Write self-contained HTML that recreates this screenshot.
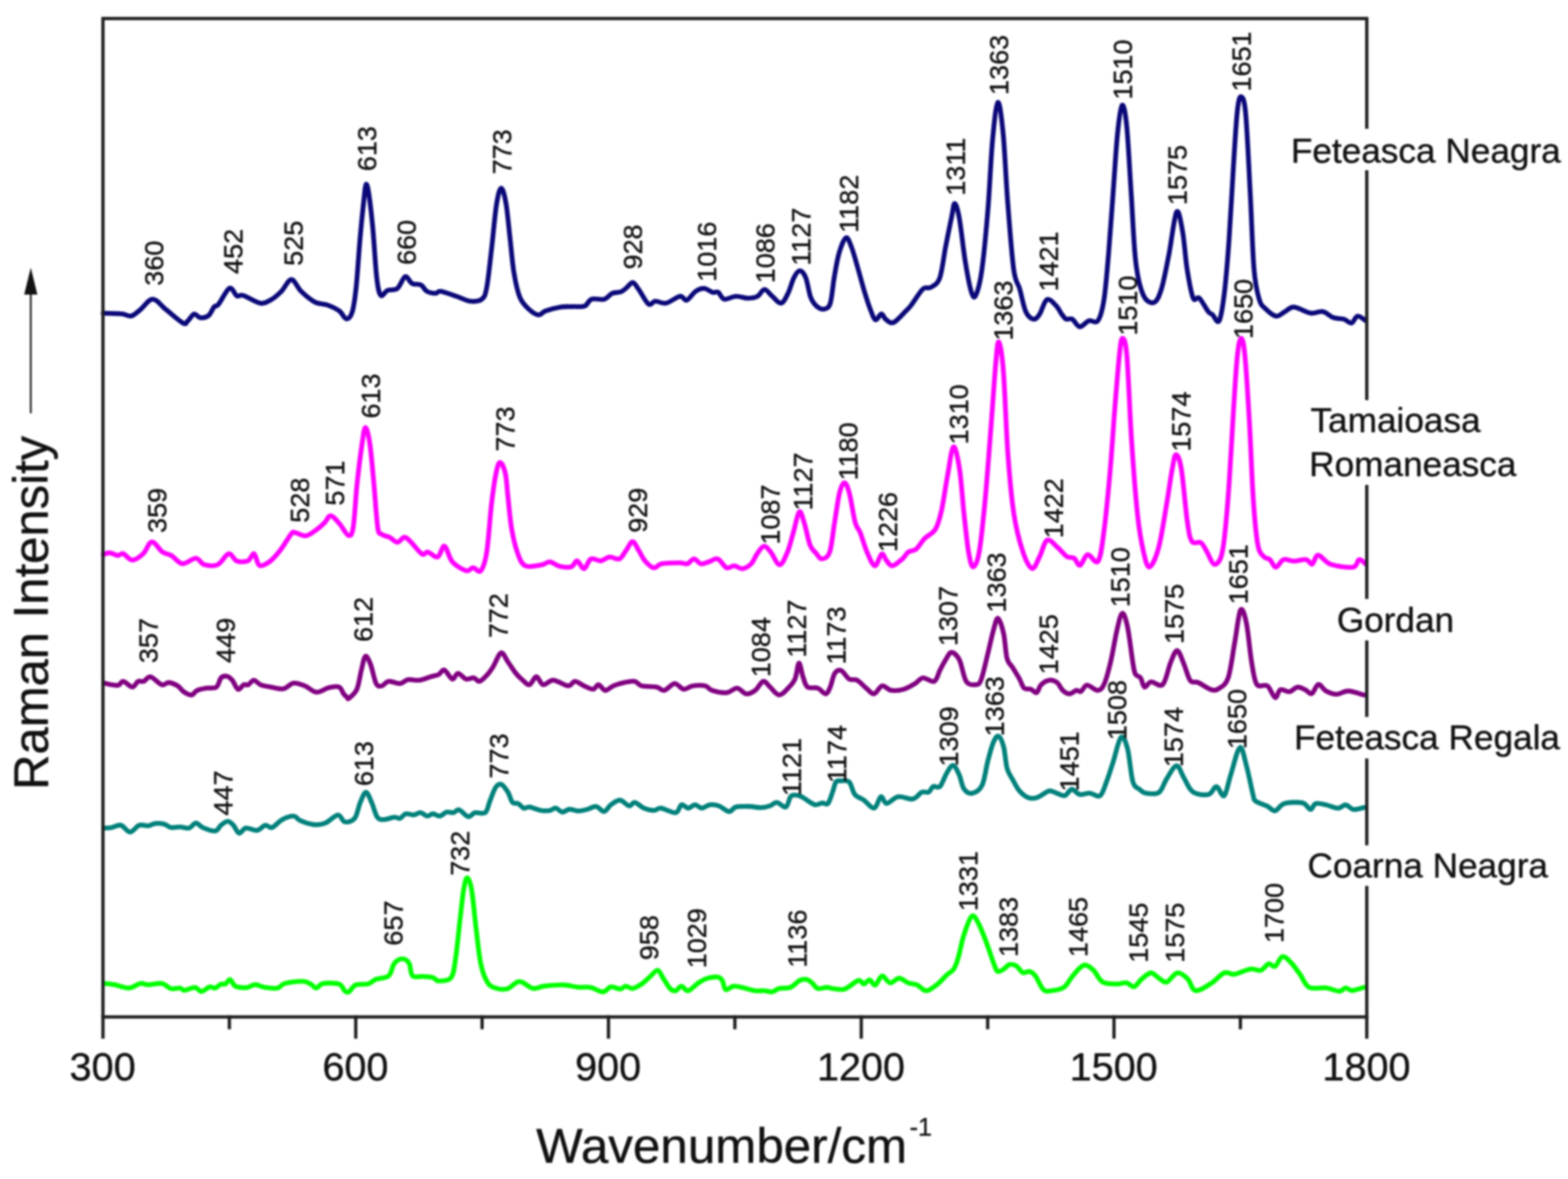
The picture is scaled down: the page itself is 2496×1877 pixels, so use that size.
<!DOCTYPE html><html><head><meta charset="utf-8"><title>Raman spectra</title><style>html,body{margin:0;padding:0;background:#fff;overflow:hidden;}svg{display:block;}</style></head><body>
<svg width="2496" height="1877" viewBox="0 0 2496 1877" style="filter:blur(1.60px)">
<rect width="2496" height="1877" fill="#fff"/>
<path d="M164.3,498.6 C168.4,498.7 183.6,499.2 188.9,499.4 C194.2,499.6 192.8,499.4 196.2,500.0 C199.6,500.6 204.6,504.2 209.2,503.0 C213.8,501.8 218.0,497.3 223.7,492.8 C229.4,488.3 236.4,476.2 243.2,476.2 C249.9,476.2 256.1,486.4 264.2,492.8 C272.3,499.2 285.8,511.5 291.6,514.5 C297.4,517.5 296.0,513.4 298.9,511.0 C301.8,508.6 305.6,500.9 309.0,500.0 C312.4,499.1 315.2,505.5 319.1,505.9 C323.0,506.3 328.6,505.1 332.2,502.2 C335.8,499.3 338.2,491.5 340.8,488.5 C343.4,485.5 343.9,489.1 348.0,484.2 C352.1,479.2 360.6,461.0 365.4,458.8 C370.2,456.6 373.4,469.2 377.0,471.1 C380.6,473.0 380.8,468.5 387.1,470.4 C393.4,472.3 407.1,481.6 414.6,482.7 C422.1,483.8 426.4,480.0 432.0,476.9 C437.6,473.8 442.6,469.2 447.9,463.9 C453.2,458.6 458.6,445.1 463.8,445.1 C469.1,445.1 473.1,457.8 479.4,463.8 C485.6,469.8 494.3,477.4 501.3,481.0 C508.3,484.6 515.1,483.3 521.6,485.7 C528.1,488.1 535.3,491.5 540.3,495.1 C545.2,498.8 547.9,507.3 551.3,507.6 C554.7,507.9 558.1,505.0 560.7,496.7 C563.3,488.4 564.8,477.2 566.9,457.6 C569.0,438.1 571.1,402.8 573.2,379.4 C575.3,355.9 577.8,331.2 579.4,316.9 C581.0,302.6 581.3,294.7 582.6,293.4 C583.9,292.1 585.4,297.4 587.2,309.1 C589.0,320.8 591.4,341.7 593.5,363.8 C595.6,385.9 597.6,424.3 599.7,442.0 C601.8,459.7 603.1,466.7 606.0,470.1 C608.9,473.5 612.6,464.1 617.0,462.3 C621.4,460.5 627.9,462.9 632.6,459.2 C637.3,455.5 641.2,441.7 645.1,440.4 C649.0,439.1 651.8,449.1 656.0,451.3 C660.2,453.5 666.2,451.6 670.1,453.7 C674.0,455.8 675.6,461.6 679.5,463.8 C683.4,466.0 689.9,467.0 693.5,467.0 C697.1,467.0 695.9,463.0 701.4,463.8 C706.9,464.6 718.6,469.1 726.4,471.7 C734.2,474.3 741.5,478.7 748.3,479.5 C755.1,480.3 762.6,479.9 767.0,476.3 C771.4,472.7 772.2,471.1 774.8,457.6 C777.4,444.1 780.0,417.2 782.6,395.1 C785.2,373.0 787.9,340.6 790.5,324.7 C793.1,308.8 795.5,299.5 798.0,299.5 C800.5,299.5 803.3,311.4 805.6,324.7 C807.9,338.0 809.8,361.2 811.9,379.4 C814.0,397.6 815.5,418.5 818.1,434.1 C820.7,449.7 823.6,463.6 827.5,473.2 C831.4,482.8 836.6,487.3 841.6,492.0 C846.6,496.7 852.8,500.9 857.2,501.4 C861.6,501.9 862.5,497.2 868.2,495.1 C873.9,493.0 884.3,490.1 891.6,488.9 C898.9,487.7 905.4,488.4 911.9,488.1 C918.4,487.8 925.8,489.3 930.7,487.3 C935.7,485.3 936.4,478.1 941.6,476.3 C946.8,474.5 956.5,477.9 962.0,476.3 C967.5,474.8 970.1,468.9 974.5,467.0 C978.9,465.1 984.6,466.2 988.5,464.6 C992.4,463.0 994.8,460.1 997.9,457.6 C1001.0,455.1 1004.2,449.3 1007.3,449.8 C1010.4,450.3 1012.5,455.0 1016.7,460.7 C1020.9,466.4 1027.9,481.1 1032.3,484.2 C1036.7,487.3 1038.5,479.8 1043.2,479.5 C1047.9,479.2 1053.9,483.9 1060.4,482.6 C1066.9,481.3 1076.8,472.5 1082.3,471.7 C1087.8,470.9 1089.1,479.2 1093.3,477.9 C1097.5,476.6 1102.6,466.9 1107.3,463.8 C1112.0,460.7 1116.9,458.9 1121.4,459.2 C1125.9,459.5 1130.4,464.4 1134.1,465.4 C1137.8,466.4 1140.3,463.6 1143.4,465.4 C1146.5,467.2 1148.1,475.2 1152.8,476.3 C1157.5,477.4 1165.3,471.9 1171.6,471.7 C1177.8,471.4 1184.6,474.8 1190.3,474.8 C1196.0,474.8 1201.6,474.1 1206.0,471.7 C1210.4,469.3 1213.0,460.7 1216.9,460.7 C1220.8,460.7 1225.0,468.0 1229.4,471.7 C1233.8,475.4 1239.3,483.4 1243.5,482.6 C1247.7,481.8 1251.0,473.8 1254.4,467.0 C1257.8,460.2 1260.7,448.0 1263.8,442.0 C1266.9,436.0 1270.1,431.0 1273.2,431.0 C1276.3,431.0 1279.7,435.0 1282.6,442.0 C1285.5,449.0 1287.5,465.6 1290.4,473.2 C1293.3,480.8 1296.2,484.2 1299.8,487.3 C1303.4,490.4 1308.6,492.8 1312.3,492.0 C1316.0,491.2 1319.1,490.9 1321.7,482.6 C1324.3,474.3 1325.6,455.3 1327.9,442.0 C1330.2,428.7 1332.6,413.5 1335.7,402.9 C1338.8,392.3 1343.3,379.8 1346.7,378.5 C1350.1,377.2 1352.9,387.0 1356.0,395.0 C1359.1,403.0 1362.0,414.6 1365.4,426.3 C1368.8,438.0 1373.0,454.2 1376.4,465.4 C1379.8,476.6 1382.9,486.2 1385.8,493.5 C1388.7,500.8 1390.8,508.1 1393.6,509.2 C1396.4,510.2 1400.3,500.1 1402.9,499.8 C1405.5,499.5 1406.6,505.2 1409.2,507.6 C1411.8,510.0 1415.7,513.4 1418.6,513.9 C1421.5,514.4 1422.8,513.6 1426.4,510.7 C1430.1,507.8 1436.6,500.7 1440.5,496.7 C1444.4,492.7 1445.2,492.6 1450.0,486.5 C1454.8,480.4 1464.0,464.8 1469.2,460.0 C1474.4,455.2 1476.9,460.4 1481.3,457.6 C1485.7,454.8 1491.7,454.0 1495.7,443.2 C1499.7,432.4 1502.1,409.1 1505.3,392.6 C1508.5,376.2 1512.6,355.9 1515.0,344.5 C1517.4,333.1 1517.8,323.6 1519.8,324.0 C1521.8,324.4 1524.2,331.4 1527.0,346.9 C1529.8,362.3 1533.4,397.0 1536.6,416.7 C1539.8,436.4 1543.4,456.0 1546.2,464.8 C1549.0,473.6 1550.7,475.6 1553.5,469.6 C1556.3,463.6 1559.9,451.6 1563.1,428.7 C1566.3,405.8 1569.9,366.6 1572.7,332.5 C1575.5,298.4 1577.3,252.4 1579.9,224.2 C1582.5,195.9 1585.6,165.0 1588.4,163.0 C1591.2,161.0 1594.2,185.9 1596.8,212.2 C1599.4,238.4 1601.2,284.4 1604.0,320.5 C1606.8,356.6 1610.4,405.4 1613.6,428.7 C1616.8,451.9 1620.0,448.8 1623.2,460.0 C1626.4,471.2 1629.3,488.1 1632.9,496.1 C1636.5,504.1 1641.3,507.3 1644.9,508.1 C1648.5,508.9 1650.9,506.1 1654.5,500.9 C1658.1,495.7 1662.2,479.3 1666.6,476.9 C1671.0,474.5 1677.0,482.5 1681.0,486.5 C1685.0,490.5 1687.9,497.3 1690.6,500.9 C1693.3,504.5 1694.5,506.9 1697.2,508.1 C1699.9,509.3 1703.2,506.1 1706.8,508.1 C1710.4,510.1 1714.5,519.8 1718.9,520.2 C1723.3,520.6 1728.5,512.2 1733.3,510.6 C1738.1,509.0 1743.7,516.2 1747.7,510.6 C1751.7,505.0 1754.6,494.5 1757.4,476.9 C1760.2,459.2 1762.2,432.8 1764.6,404.7 C1767.0,376.6 1769.4,340.5 1771.8,308.4 C1774.2,276.3 1776.6,235.7 1779.0,212.2 C1781.4,188.7 1783.8,169.5 1786.2,167.5 C1788.6,165.5 1791.1,176.7 1793.5,200.2 C1795.9,223.7 1798.3,272.3 1800.7,308.4 C1803.1,344.5 1804.7,389.8 1807.9,416.7 C1811.1,443.6 1815.1,458.8 1819.9,469.6 C1824.7,480.4 1832.0,483.3 1836.8,481.7 C1841.6,480.1 1844.8,472.8 1848.8,460.0 C1852.8,447.2 1856.8,425.1 1860.8,404.7 C1864.8,384.3 1869.3,343.5 1872.9,337.5 C1876.5,331.5 1879.7,353.4 1882.5,368.6 C1885.3,383.8 1886.9,411.1 1889.7,428.7 C1892.5,446.3 1896.1,466.9 1899.3,474.5 C1902.5,482.1 1905.0,470.9 1909.0,474.5 C1913.0,478.1 1919.9,491.7 1923.4,496.1 C1926.9,500.5 1927.1,498.5 1930.0,500.9 C1932.9,503.3 1937.6,516.6 1940.8,510.6 C1944.0,504.6 1946.6,486.5 1949.2,464.8 C1951.8,443.1 1954.1,414.7 1956.5,380.6 C1958.9,346.5 1961.5,294.4 1963.7,260.3 C1965.9,226.2 1967.7,193.8 1969.7,176.1 C1971.7,158.4 1973.5,153.2 1975.7,154.0 C1977.9,154.8 1980.5,155.2 1982.9,180.9 C1985.3,206.6 1988.0,267.1 1990.2,308.4 C1992.4,349.7 1993.8,400.6 1996.2,428.7 C1998.6,456.8 2001.6,466.5 2004.6,476.9 C2007.6,487.3 2009.8,486.9 2014.2,491.3 C2018.6,495.7 2025.9,502.5 2031.1,503.3 C2036.3,504.1 2040.7,498.5 2045.5,496.1 C2050.3,493.7 2053.1,488.5 2059.9,488.9 C2066.7,489.3 2078.8,497.3 2086.4,498.5 C2094.0,499.7 2099.6,494.9 2105.6,496.1 C2111.6,497.3 2116.9,503.7 2122.5,505.7 C2128.1,507.7 2134.5,506.7 2139.3,508.1 C2144.1,509.5 2147.8,515.0 2151.4,514.2 C2155.0,513.4 2157.2,503.9 2161.0,503.3 C2164.8,502.7 2172.0,509.4 2174.2,510.6" fill="none" stroke="#0a0878" stroke-width="7.6" stroke-linejoin="round" stroke-linecap="round"/>
<path d="M164.3,883.0 C166.0,882.5 170.6,879.9 174.5,880.1 C178.4,880.3 183.9,884.2 187.5,884.4 C191.1,884.6 192.3,880.3 196.2,881.5 C200.0,882.7 205.3,891.6 210.6,891.6 C215.9,891.6 222.8,886.3 228.0,881.5 C233.2,876.7 236.6,863.2 241.7,862.7 C246.8,862.2 253.2,875.0 258.4,878.6 C263.6,882.2 267.5,881.3 272.8,884.4 C278.1,887.5 283.7,896.7 290.2,897.4 C296.7,898.1 306.1,888.5 311.9,888.8 C317.7,889.0 319.1,897.2 324.9,898.9 C330.7,900.6 340.1,901.8 346.6,898.9 C353.1,896.0 358.9,882.5 364.0,881.5 C369.1,880.5 371.9,891.2 377.0,893.1 C382.1,895.0 389.8,895.0 394.4,893.1 C399.0,891.2 401.4,880.3 404.5,881.5 C407.6,882.7 408.9,898.4 413.2,900.3 C417.5,902.2 425.0,897.2 430.5,893.1 C436.0,889.0 440.8,882.9 446.4,875.7 C451.9,868.5 459.9,854.3 463.8,849.7 C467.7,845.1 466.1,847.5 470.0,848.0 C473.9,848.5 481.5,853.9 487.2,853.0 C492.9,852.1 499.4,846.4 504.4,842.9 C509.3,839.4 513.2,835.6 516.9,832.0 C520.5,828.4 522.4,820.8 526.3,821.0 C530.2,821.2 535.6,828.3 540.3,833.5 C545.0,838.7 550.8,851.2 554.4,852.3 C558.0,853.3 559.9,853.6 562.2,839.8 C564.6,826.0 566.1,791.5 568.5,769.4 C570.9,747.2 574.1,721.7 576.3,706.9 C578.5,692.1 579.7,680.5 581.8,680.5 C583.9,680.5 586.6,692.1 588.8,706.9 C591.0,721.7 593.0,747.2 595.1,769.4 C597.2,791.5 599.2,826.2 601.3,839.8 C603.4,853.3 604.5,848.1 607.6,850.7 C610.7,853.3 615.9,853.3 620.1,855.4 C624.3,857.5 628.7,863.2 632.6,863.2 C636.5,863.2 640.1,855.6 643.5,855.4 C646.9,855.1 648.2,857.3 652.9,861.7 C657.6,866.1 667.0,879.1 671.7,882.0 C676.4,884.9 676.8,878.1 681.0,878.9 C685.2,879.7 692.3,888.3 696.7,886.7 C701.1,885.1 703.7,868.2 707.6,869.5 C711.5,870.8 714.4,888.0 720.1,894.5 C725.8,901.0 736.5,907.0 742.0,908.6 C747.5,910.2 749.1,903.9 753.0,903.9 C756.9,903.9 761.8,912.8 765.4,908.6 C769.0,904.4 771.9,896.9 774.8,878.9 C777.7,860.9 780.0,822.3 782.6,800.7 C785.2,779.1 788.1,759.8 790.5,749.1 C792.9,738.4 794.4,735.7 796.7,736.5 C799.0,737.3 802.5,744.9 804.5,753.8 C806.5,762.7 806.9,775.7 808.5,790.0 C810.1,804.3 811.6,825.0 814.1,839.8 C816.6,854.6 819.8,868.8 823.4,878.9 C827.0,889.0 829.5,897.3 836.0,900.7 C842.5,904.1 856.0,900.2 862.5,899.2 C869.0,898.2 870.3,894.1 875.0,894.5 C879.7,894.9 885.0,900.2 890.7,901.5 C896.4,902.8 904.7,903.7 909.4,902.3 C914.1,900.9 915.4,892.4 918.8,892.9 C922.2,893.4 926.1,905.9 929.7,905.4 C933.4,904.9 936.3,891.9 940.7,889.8 C945.1,887.7 951.3,893.4 956.3,892.9 C961.2,892.4 965.4,887.2 970.4,886.7 C975.4,886.2 981.6,891.6 986.0,889.8 C990.4,888.0 993.5,880.3 997.0,875.7 C1000.5,871.1 1003.7,862.1 1007.1,862.4 C1010.5,862.7 1014.0,872.2 1017.3,877.3 C1020.6,882.4 1022.8,888.5 1026.7,892.9 C1030.6,897.3 1036.3,903.1 1040.7,903.9 C1045.1,904.7 1046.4,898.9 1053.2,897.6 C1060.0,896.3 1074.6,896.0 1081.4,896.0 C1088.2,896.0 1090.0,898.6 1093.9,897.6 C1097.8,896.6 1101.2,889.8 1104.8,889.8 C1108.4,889.8 1111.9,896.8 1115.8,897.6 C1119.7,898.4 1123.8,895.8 1128.3,894.5 C1132.8,893.2 1137.8,888.2 1142.5,889.8 C1147.2,891.4 1152.2,902.1 1156.6,903.9 C1161.0,905.7 1164.9,900.5 1169.1,900.7 C1173.3,901.0 1177.2,905.9 1181.6,905.4 C1186.0,904.9 1191.8,901.5 1195.7,897.6 C1199.6,893.7 1201.6,886.7 1205.0,882.0 C1208.4,877.3 1212.3,870.0 1216.0,869.5 C1219.7,869.0 1222.7,873.9 1226.9,878.9 C1231.1,883.9 1236.6,899.2 1241.0,899.2 C1245.4,899.2 1249.8,887.5 1253.5,878.9 C1257.2,870.3 1259.8,858.2 1262.9,847.6 C1266.0,837.0 1269.4,817.6 1272.3,815.0 C1275.2,812.4 1277.2,823.2 1280.1,832.0 C1283.0,840.8 1286.4,859.8 1289.5,867.9 C1292.6,876.0 1295.7,876.8 1298.8,880.4 C1301.9,884.0 1304.5,890.0 1308.2,889.8 C1311.9,889.5 1317.3,888.5 1320.7,878.9 C1324.1,869.3 1325.9,847.6 1328.5,832.0 C1331.1,816.4 1333.7,795.6 1336.3,785.0 C1338.9,774.4 1341.6,768.5 1344.2,768.5 C1346.8,768.5 1349.1,774.4 1352.0,785.0 C1354.9,795.6 1358.5,821.6 1361.4,832.0 C1364.3,842.4 1366.1,839.8 1369.2,847.6 C1372.3,855.4 1376.2,870.0 1380.1,878.9 C1384.0,887.8 1388.7,900.2 1392.6,900.7 C1396.5,901.2 1400.5,883.3 1403.6,882.0 C1406.7,880.7 1408.5,889.8 1411.4,892.9 C1414.3,896.0 1416.6,901.2 1420.8,900.7 C1425.0,900.2 1432.2,893.4 1436.4,889.8 C1440.6,886.2 1442.2,881.5 1445.8,878.9 C1449.4,876.3 1453.9,877.8 1458.3,874.2 C1462.7,870.6 1466.9,862.4 1472.0,857.2 C1477.1,852.0 1484.5,850.0 1488.9,842.8 C1493.3,835.6 1495.3,827.9 1498.5,813.9 C1501.7,799.9 1504.9,775.7 1508.1,758.6 C1511.3,741.5 1514.5,713.5 1517.7,711.5 C1520.9,709.5 1524.6,728.7 1527.4,746.6 C1530.2,764.5 1532.2,796.7 1534.6,818.7 C1537.0,840.8 1539.4,864.9 1541.8,878.9 C1544.2,892.9 1546.2,902.5 1549.0,902.5 C1551.8,902.5 1555.5,896.9 1558.7,878.9 C1561.9,860.9 1565.1,828.8 1568.3,794.7 C1571.5,760.6 1575.1,710.5 1577.9,674.4 C1580.7,638.3 1583.1,599.8 1585.1,578.1 C1587.1,556.5 1587.9,542.5 1589.9,544.5 C1591.9,546.5 1594.8,560.5 1597.2,590.2 C1599.6,619.9 1601.6,684.4 1604.4,722.5 C1607.2,760.6 1610.0,792.6 1614.0,818.7 C1618.0,844.8 1623.6,864.5 1628.4,878.9 C1633.2,893.3 1638.5,903.8 1642.9,905.0 C1647.3,906.2 1650.9,893.6 1654.9,886.1 C1658.9,878.6 1662.1,862.4 1666.9,860.0 C1671.7,857.6 1678.6,867.4 1683.8,871.7 C1689.0,876.1 1693.9,883.3 1698.2,886.1 C1702.5,888.9 1706.1,886.2 1709.6,888.5 C1713.1,890.8 1715.6,900.9 1719.2,900.0 C1722.8,899.1 1726.5,884.1 1731.3,883.0 C1736.1,881.9 1743.7,900.0 1748.1,893.3 C1752.5,886.6 1754.5,867.2 1757.7,842.8 C1760.9,818.3 1764.6,778.7 1767.4,746.6 C1770.2,714.5 1772.2,680.4 1774.6,650.3 C1777.0,620.2 1779.8,584.7 1781.8,566.1 C1783.8,547.5 1784.6,538.5 1786.6,538.5 C1788.6,538.5 1791.4,539.5 1793.8,566.1 C1796.2,592.8 1798.3,656.3 1801.1,698.4 C1803.9,740.5 1807.5,788.6 1810.7,818.7 C1813.9,848.8 1817.1,864.9 1820.3,878.9 C1823.5,892.9 1826.0,903.7 1830.0,902.5 C1834.0,901.3 1840.0,887.7 1844.4,871.7 C1848.8,855.7 1852.8,827.6 1856.4,806.7 C1860.0,785.9 1863.4,760.4 1866.0,746.6 C1868.6,732.8 1869.6,723.7 1872.0,723.7 C1874.4,723.7 1877.5,728.8 1880.5,746.6 C1883.5,764.5 1887.3,811.6 1890.1,830.8 C1892.9,850.0 1893.7,856.5 1897.3,862.0 C1900.9,867.5 1907.7,861.2 1911.7,864.0 C1915.7,866.8 1918.0,873.2 1921.4,878.9 C1924.8,884.6 1928.6,896.5 1932.2,898.1 C1935.8,899.7 1940.2,895.7 1943.0,888.5 C1945.8,881.3 1947.0,874.4 1949.2,854.8 C1951.5,835.1 1954.1,804.7 1956.5,770.6 C1958.9,736.5 1961.5,684.4 1963.7,650.3 C1965.9,616.2 1967.7,584.7 1969.7,566.1 C1971.7,547.5 1973.7,538.5 1975.7,538.5 C1977.7,538.5 1979.5,543.5 1981.7,566.1 C1983.9,588.8 1986.8,636.3 1989.0,674.4 C1991.2,712.5 1992.8,762.6 1995.0,794.7 C1997.2,826.8 1999.4,851.7 2002.2,866.9 C2005.0,882.1 2008.6,882.1 2011.8,886.1 C2015.0,890.1 2018.2,888.1 2021.4,890.9 C2024.6,893.7 2027.5,903.0 2031.1,903.0 C2034.7,903.0 2038.3,892.5 2043.1,890.9 C2047.9,889.3 2053.9,893.3 2059.9,893.3 C2065.9,893.3 2074.4,890.1 2079.2,890.9 C2084.0,891.7 2085.6,899.3 2088.8,898.1 C2092.0,896.9 2093.6,883.7 2098.4,883.7 C2103.2,883.7 2108.5,894.9 2117.7,898.1 C2126.9,901.3 2146.2,904.2 2153.8,903.0 C2161.4,901.8 2160.0,891.7 2163.4,890.9 C2166.8,890.1 2172.4,896.9 2174.2,898.1" fill="none" stroke="#ff00ff" stroke-width="7.6" stroke-linejoin="round" stroke-linecap="round"/>
<path d="M165.4,1087.5 C169.0,1088.1 182.0,1091.5 187.1,1091.1 C192.2,1090.6 192.3,1084.3 196.2,1084.8 C200.1,1085.2 206.7,1093.8 210.6,1093.8 C214.5,1093.8 216.7,1086.3 219.7,1084.8 C222.7,1083.3 225.4,1086.0 228.7,1084.8 C232.0,1083.6 234.8,1076.6 239.6,1077.5 C244.4,1078.4 252.8,1088.7 257.6,1090.2 C262.4,1091.7 264.3,1086.3 268.5,1086.6 C272.7,1086.9 279.1,1089.6 283.0,1092.0 C286.9,1094.4 288.4,1098.6 292.0,1101.0 C295.6,1103.4 301.1,1106.8 304.7,1106.5 C308.3,1106.2 309.8,1101.0 313.7,1099.2 C317.6,1097.4 323.1,1096.5 328.2,1095.6 C333.3,1094.7 340.6,1096.5 344.5,1093.8 C348.4,1091.1 349.0,1082.2 351.7,1079.3 C354.4,1076.4 357.7,1076.0 360.7,1076.6 C363.7,1077.2 366.8,1079.5 369.8,1083.0 C372.8,1086.5 375.8,1096.2 378.8,1097.4 C381.8,1098.6 385.1,1091.4 387.8,1090.2 C390.5,1089.0 392.4,1091.4 395.1,1090.2 C397.8,1089.0 400.8,1083.0 404.1,1083.0 C407.4,1083.0 410.5,1088.4 415.0,1090.2 C419.5,1092.0 425.2,1092.8 431.2,1093.8 C437.2,1094.8 445.1,1097.5 451.1,1096.5 C457.1,1095.5 461.7,1088.2 467.4,1087.5 C473.1,1086.8 479.5,1089.6 485.5,1092.0 C491.5,1094.4 497.3,1101.5 503.6,1102.0 C509.9,1102.5 517.5,1096.1 523.5,1094.7 C529.5,1093.3 535.8,1092.1 539.7,1093.8 C543.6,1095.5 544.9,1102.0 547.0,1104.7 C549.1,1107.4 551.0,1108.9 552.4,1110.1 C553.8,1111.3 552.8,1113.9 555.4,1111.8 C558.0,1109.7 564.8,1104.8 568.1,1097.3 C571.4,1089.8 573.0,1075.3 575.3,1066.6 C577.5,1057.9 579.2,1046.4 581.6,1044.9 C584.0,1043.4 586.9,1050.3 589.8,1057.5 C592.7,1064.7 595.8,1082.6 598.8,1088.3 C601.8,1094.0 604.6,1092.5 607.9,1091.9 C611.2,1091.3 613.9,1085.3 618.7,1084.7 C623.5,1084.1 631.7,1088.8 636.8,1088.3 C641.9,1087.8 644.4,1082.9 649.5,1082.0 C654.6,1081.1 661.5,1083.7 667.5,1082.9 C673.5,1082.1 680.5,1078.9 685.6,1077.4 C690.7,1075.9 694.7,1075.6 698.3,1073.8 C701.9,1072.0 703.7,1065.4 707.3,1066.6 C710.9,1067.8 716.4,1080.1 720.0,1081.0 C723.6,1081.9 725.4,1072.0 729.0,1072.0 C732.6,1072.0 737.5,1079.8 741.7,1081.0 C745.9,1082.2 750.7,1078.6 754.3,1079.2 C757.9,1079.8 759.8,1085.6 763.4,1084.7 C767.0,1083.8 772.4,1077.7 776.0,1073.8 C779.6,1069.9 781.5,1066.9 785.1,1061.2 C788.7,1055.5 793.8,1040.7 797.7,1039.5 C801.6,1038.3 804.7,1048.5 808.6,1053.9 C812.5,1059.3 817.3,1067.2 821.2,1072.0 C825.1,1076.8 828.5,1079.9 832.1,1082.9 C835.7,1085.9 839.3,1091.0 842.9,1090.1 C846.5,1089.2 850.2,1077.4 853.8,1077.4 C857.4,1077.4 860.1,1089.2 864.6,1090.1 C869.1,1091.0 874.3,1082.6 880.9,1082.9 C887.5,1083.2 898.7,1091.6 904.4,1091.9 C910.1,1092.2 911.1,1084.7 915.3,1084.7 C919.5,1084.7 924.9,1089.8 929.7,1091.9 C934.5,1094.0 940.4,1097.6 944.2,1097.3 C948.0,1097.0 949.5,1089.8 952.7,1090.1 C955.9,1090.4 959.6,1098.8 963.5,1099.1 C967.4,1099.4 971.1,1094.0 976.2,1091.9 C981.3,1089.8 988.5,1087.7 994.2,1086.5 C999.9,1085.3 1006.0,1083.8 1010.5,1084.7 C1015.0,1085.6 1015.7,1090.4 1021.4,1091.9 C1027.1,1093.4 1038.9,1092.5 1044.9,1093.7 C1050.9,1094.9 1052.7,1100.0 1057.5,1099.1 C1062.3,1098.2 1068.7,1088.6 1073.8,1088.3 C1078.9,1088.0 1083.5,1096.7 1088.3,1097.3 C1093.1,1097.9 1097.0,1092.8 1102.7,1091.9 C1108.4,1091.0 1117.5,1090.7 1122.6,1091.9 C1127.7,1093.1 1127.8,1097.3 1133.5,1099.1 C1139.2,1100.9 1150.4,1103.3 1157.0,1102.7 C1163.6,1102.1 1168.2,1095.2 1173.3,1095.5 C1178.4,1095.8 1182.9,1104.0 1187.7,1104.6 C1192.5,1105.2 1197.7,1102.4 1202.2,1099.1 C1206.7,1095.8 1211.0,1085.6 1214.9,1084.7 C1218.8,1083.8 1221.5,1090.1 1225.7,1093.7 C1229.9,1097.3 1235.4,1106.1 1240.2,1106.4 C1245.0,1106.7 1250.4,1099.7 1254.6,1095.5 C1258.8,1091.3 1262.6,1087.6 1265.5,1081.0 C1268.4,1074.4 1269.7,1056.3 1271.8,1055.7 C1273.9,1055.1 1275.9,1071.1 1278.2,1077.4 C1280.5,1083.7 1281.5,1090.7 1285.4,1093.7 C1289.3,1096.7 1296.9,1093.7 1301.7,1095.5 C1306.5,1097.3 1311.0,1104.9 1314.3,1104.6 C1317.6,1104.3 1319.2,1099.1 1321.6,1093.7 C1324.0,1088.3 1325.9,1076.4 1328.8,1072.0 C1331.7,1067.6 1335.2,1066.0 1339.0,1067.5 C1342.8,1069.0 1347.5,1078.4 1351.7,1081.0 C1355.9,1083.6 1359.9,1080.5 1364.4,1082.9 C1368.9,1085.3 1374.3,1091.9 1378.8,1095.5 C1383.3,1099.1 1387.3,1105.2 1391.5,1104.6 C1395.7,1104.0 1399.6,1092.8 1404.1,1091.9 C1408.6,1091.0 1412.9,1098.2 1418.6,1099.1 C1424.3,1100.0 1432.2,1099.1 1438.5,1097.3 C1444.8,1095.5 1451.5,1091.3 1456.6,1088.3 C1461.7,1085.3 1464.1,1079.8 1469.2,1079.2 C1474.3,1078.6 1482.8,1086.8 1487.3,1084.7 C1491.8,1082.6 1493.4,1072.3 1496.4,1066.6 C1499.4,1060.9 1502.4,1055.0 1505.4,1050.3 C1508.4,1045.6 1510.9,1038.6 1514.5,1038.6 C1518.1,1038.6 1523.2,1042.6 1527.1,1050.3 C1531.0,1058.0 1533.8,1078.1 1538.0,1084.7 C1542.2,1091.3 1548.5,1090.4 1552.4,1090.1 C1556.3,1089.8 1558.2,1091.0 1561.5,1082.9 C1564.8,1074.8 1569.0,1054.6 1572.3,1041.3 C1575.6,1028.0 1578.7,1012.8 1581.4,1003.3 C1584.1,993.8 1585.9,983.4 1588.6,984.3 C1591.3,985.2 1595.2,998.0 1597.6,1008.7 C1600.0,1019.4 1600.7,1039.5 1603.1,1048.5 C1605.5,1057.5 1608.8,1057.6 1612.1,1063.0 C1615.4,1068.4 1619.9,1075.6 1622.9,1081.0 C1625.9,1086.4 1627.2,1092.8 1630.2,1095.5 C1633.2,1098.2 1637.7,1096.1 1641.0,1097.3 C1644.3,1098.5 1647.4,1103.9 1650.1,1102.7 C1652.8,1101.5 1654.0,1093.4 1657.3,1090.1 C1660.6,1086.8 1665.8,1083.5 1670.0,1082.9 C1674.2,1082.3 1679.0,1083.8 1682.6,1086.5 C1686.2,1089.2 1688.4,1096.1 1691.7,1099.1 C1695.0,1102.1 1698.9,1104.6 1702.5,1104.6 C1706.1,1104.6 1710.4,1099.7 1713.4,1099.1 C1716.4,1098.5 1717.8,1102.3 1720.6,1100.9 C1723.4,1099.5 1726.0,1091.1 1730.4,1090.8 C1734.8,1090.5 1742.5,1099.3 1747.0,1099.1 C1751.5,1098.9 1753.9,1097.2 1757.4,1089.7 C1760.9,1082.2 1764.3,1069.0 1767.8,1054.4 C1771.3,1039.9 1775.1,1015.4 1778.2,1002.4 C1781.3,989.4 1783.7,977.1 1786.5,976.4 C1789.3,975.7 1792.1,985.2 1794.9,998.2 C1797.7,1011.2 1801.1,1041.9 1803.2,1054.4 C1805.3,1066.9 1805.2,1068.9 1807.3,1073.1 C1809.4,1077.2 1813.3,1075.8 1815.7,1079.3 C1818.1,1082.8 1819.1,1092.9 1821.9,1093.9 C1824.7,1095.0 1827.5,1086.3 1832.3,1085.6 C1837.1,1084.9 1845.8,1094.9 1851.0,1089.7 C1856.2,1084.5 1859.7,1063.4 1863.5,1054.4 C1867.3,1045.4 1870.4,1035.4 1873.9,1035.7 C1877.4,1036.0 1880.8,1048.4 1884.3,1056.4 C1887.8,1064.4 1890.9,1078.5 1894.7,1083.5 C1898.5,1088.5 1901.6,1084.2 1907.1,1086.6 C1912.6,1089.0 1922.4,1096.4 1927.9,1098.0 C1933.5,1099.6 1935.9,1099.1 1940.4,1096.0 C1944.9,1092.9 1950.8,1091.4 1955.0,1079.3 C1959.2,1067.2 1962.1,1041.2 1965.4,1023.2 C1968.7,1005.2 1971.6,976.4 1974.7,971.2 C1977.8,966.0 1981.1,978.1 1984.1,992.0 C1987.0,1005.9 1989.6,1038.1 1992.4,1054.4 C1995.2,1070.7 1996.5,1083.5 2000.7,1089.7 C2004.9,1095.9 2012.6,1088.3 2017.4,1091.8 C2022.2,1095.3 2026.3,1109.5 2029.8,1110.5 C2033.3,1111.5 2034.4,1099.5 2038.2,1098.0 C2042.0,1096.5 2048.2,1101.9 2052.7,1101.2 C2057.2,1100.5 2061.0,1094.4 2065.2,1093.9 C2069.4,1093.4 2073.9,1096.3 2077.7,1098.0 C2081.5,1099.7 2084.6,1105.7 2088.1,1104.3 C2091.6,1102.9 2094.7,1090.4 2098.5,1089.7 C2102.3,1089.0 2106.1,1097.5 2110.9,1100.1 C2115.8,1102.7 2121.7,1105.3 2127.6,1105.3 C2133.5,1105.3 2139.0,1099.9 2146.3,1100.1 C2153.6,1100.3 2167.0,1105.4 2171.2,1106.4" fill="none" stroke="#800080" stroke-width="7.6" stroke-linejoin="round" stroke-linecap="round"/>
<path d="M165.4,1318.3 C167.5,1318.2 173.6,1318.2 178.1,1317.4 C182.6,1316.7 187.7,1312.6 192.5,1313.8 C197.3,1315.0 202.2,1324.7 207.0,1324.7 C211.8,1324.7 216.7,1315.5 221.5,1313.8 C226.3,1312.1 231.8,1315.2 236.0,1314.7 C240.2,1314.2 242.6,1311.5 246.8,1311.1 C251.0,1310.6 257.1,1311.0 261.3,1312.0 C265.5,1313.0 267.9,1316.7 272.1,1317.4 C276.3,1318.2 281.8,1316.3 286.6,1316.5 C291.4,1316.7 296.8,1319.3 301.0,1318.3 C305.2,1317.2 308.3,1310.3 311.9,1310.2 C315.5,1310.1 317.6,1315.3 322.7,1317.4 C327.8,1319.5 337.8,1323.5 342.6,1322.9 C347.4,1322.3 348.4,1316.4 351.7,1313.8 C355.0,1311.2 359.2,1307.5 362.5,1307.5 C365.8,1307.5 368.6,1310.6 371.6,1313.8 C374.6,1317.0 377.3,1325.8 380.6,1326.5 C383.9,1327.2 386.7,1319.1 391.5,1318.3 C396.3,1317.5 404.4,1322.7 409.5,1321.9 C414.6,1321.2 418.3,1314.5 422.2,1313.8 C426.1,1313.0 428.6,1318.9 433.1,1317.4 C437.6,1315.9 443.6,1307.8 449.3,1304.8 C455.0,1301.8 462.6,1299.0 467.4,1299.3 C472.2,1299.6 472.9,1304.3 478.3,1306.6 C483.7,1308.9 493.4,1312.3 500.0,1312.9 C506.6,1313.5 511.7,1312.8 518.0,1310.2 C524.3,1307.6 532.8,1297.8 537.9,1297.5 C543.0,1297.2 544.4,1307.5 548.8,1308.4 C553.2,1309.3 560.4,1308.1 564.5,1302.9 C568.6,1297.8 570.5,1284.4 573.5,1277.5 C576.5,1270.6 579.5,1261.3 582.5,1261.3 C585.5,1261.3 588.6,1270.9 591.6,1277.5 C594.6,1284.1 597.3,1296.5 600.6,1301.0 C603.9,1305.5 607.0,1304.7 611.5,1304.7 C616.0,1304.7 623.6,1301.3 627.8,1301.0 C632.0,1300.7 633.8,1303.8 636.8,1302.9 C639.8,1302.0 642.2,1296.5 645.8,1295.6 C649.4,1294.7 654.6,1297.7 658.5,1297.4 C662.4,1297.1 665.7,1293.5 669.3,1293.8 C672.9,1294.1 676.9,1298.9 680.2,1299.2 C683.5,1299.5 685.9,1295.6 689.2,1295.6 C692.5,1295.6 696.5,1299.7 700.1,1299.2 C703.7,1298.8 707.3,1293.8 710.9,1292.9 C714.5,1292.0 718.5,1294.4 721.8,1293.8 C725.1,1293.2 726.9,1288.2 730.8,1289.3 C734.7,1290.3 741.1,1299.3 745.3,1300.1 C749.5,1300.8 751.6,1294.8 756.1,1293.8 C760.6,1292.8 768.5,1296.8 772.4,1293.8 C776.3,1290.8 777.0,1282.3 779.7,1275.7 C782.4,1269.1 785.7,1258.5 788.7,1254.0 C791.7,1249.5 794.4,1247.4 797.7,1248.6 C801.0,1249.8 805.6,1256.5 808.6,1261.3 C811.6,1266.1 813.1,1274.5 815.8,1277.5 C818.5,1280.5 821.9,1277.8 824.9,1279.3 C827.9,1280.8 830.9,1285.7 833.9,1286.6 C836.9,1287.5 838.5,1284.2 843.0,1284.8 C847.5,1285.4 855.6,1289.3 861.0,1290.2 C866.4,1291.1 871.6,1290.8 875.5,1290.2 C879.4,1289.6 881.2,1286.1 884.5,1286.6 C887.8,1287.0 891.8,1292.6 895.4,1292.9 C899.0,1293.2 902.0,1288.7 906.2,1288.4 C910.4,1288.1 915.9,1291.1 920.7,1291.1 C925.5,1291.1 930.5,1289.6 935.2,1288.4 C939.9,1287.2 944.6,1283.3 949.0,1283.9 C953.4,1284.5 957.8,1292.5 961.7,1292.0 C965.6,1291.5 968.3,1284.2 972.5,1281.2 C976.7,1278.2 982.2,1273.6 987.0,1273.9 C991.8,1274.2 997.6,1282.4 1001.5,1283.0 C1005.4,1283.6 1006.6,1276.9 1010.5,1277.5 C1014.4,1278.1 1019.9,1284.5 1025.0,1286.6 C1030.1,1288.7 1036.8,1290.2 1041.3,1290.2 C1045.8,1290.2 1046.4,1286.0 1052.1,1286.6 C1057.8,1287.2 1070.2,1294.7 1075.6,1293.8 C1081.0,1292.9 1081.4,1282.4 1084.7,1281.2 C1088.0,1280.0 1091.9,1286.6 1095.5,1286.6 C1099.1,1286.6 1102.8,1281.2 1106.4,1281.2 C1110.0,1281.2 1113.3,1286.6 1117.2,1286.6 C1121.1,1286.6 1125.4,1281.8 1129.9,1281.2 C1134.4,1280.6 1139.2,1281.2 1144.3,1283.0 C1149.4,1284.8 1156.1,1291.7 1160.6,1292.0 C1165.1,1292.3 1166.1,1286.1 1171.5,1284.8 C1176.9,1283.5 1186.6,1283.8 1193.2,1283.9 C1199.8,1284.1 1205.8,1285.9 1211.2,1285.7 C1216.6,1285.5 1221.5,1284.4 1225.7,1283.0 C1229.9,1281.6 1232.4,1277.2 1236.6,1277.5 C1240.8,1277.8 1247.4,1286.3 1251.0,1284.8 C1254.6,1283.3 1255.9,1271.7 1258.3,1268.5 C1260.7,1265.3 1262.5,1265.8 1265.5,1265.8 C1268.5,1265.8 1272.7,1266.8 1276.3,1268.5 C1279.9,1270.2 1283.6,1273.6 1287.2,1275.7 C1290.8,1277.8 1294.4,1280.8 1298.0,1281.2 C1301.6,1281.7 1305.6,1278.7 1308.9,1278.4 C1312.2,1278.1 1315.2,1282.2 1317.9,1279.3 C1320.6,1276.4 1323.1,1267.0 1325.2,1261.3 C1327.3,1255.6 1328.6,1248.0 1330.6,1245.0 C1332.6,1242.0 1333.7,1243.1 1337.2,1243.1 C1340.7,1243.1 1347.8,1241.3 1351.7,1244.9 C1355.6,1248.5 1356.8,1260.0 1360.7,1264.8 C1364.6,1269.6 1370.1,1270.2 1375.2,1273.8 C1380.3,1277.4 1387.0,1287.4 1391.5,1286.5 C1396.0,1285.6 1399.0,1269.6 1402.3,1268.4 C1405.6,1267.2 1406.9,1279.2 1411.4,1279.2 C1415.9,1279.2 1422.6,1269.6 1429.5,1268.4 C1436.4,1267.2 1446.7,1273.2 1453.0,1272.0 C1459.3,1270.8 1463.2,1263.0 1467.4,1261.2 C1471.6,1259.4 1475.3,1262.7 1478.3,1261.2 C1481.3,1259.7 1482.5,1253.6 1485.5,1252.1 C1488.5,1250.6 1492.8,1255.7 1496.4,1252.1 C1500.0,1248.5 1503.7,1236.0 1507.2,1230.4 C1510.7,1224.8 1513.9,1217.9 1517.2,1218.5 C1520.5,1219.1 1524.2,1227.8 1527.1,1234.0 C1529.9,1240.2 1531.0,1250.9 1534.3,1255.7 C1537.6,1260.5 1542.2,1263.9 1547.0,1263.0 C1551.8,1262.1 1559.1,1258.8 1563.3,1250.3 C1567.5,1241.8 1569.3,1223.8 1572.3,1212.3 C1575.3,1200.8 1578.5,1188.3 1581.4,1181.6 C1584.3,1174.9 1586.8,1170.8 1589.5,1172.0 C1592.2,1173.2 1595.3,1180.3 1597.6,1188.8 C1599.9,1197.3 1600.7,1214.5 1603.1,1223.2 C1605.5,1232.0 1608.8,1235.3 1612.1,1241.3 C1615.4,1247.3 1618.7,1254.5 1622.9,1259.3 C1627.1,1264.1 1632.6,1268.5 1637.4,1270.2 C1642.2,1271.9 1646.5,1271.1 1651.9,1269.3 C1657.3,1267.5 1664.9,1260.3 1670.0,1259.3 C1675.1,1258.2 1678.4,1261.8 1682.6,1263.0 C1686.8,1264.2 1691.4,1267.7 1695.3,1266.6 C1699.2,1265.5 1702.2,1256.9 1706.1,1256.6 C1710.0,1256.3 1714.0,1263.8 1718.8,1264.8 C1723.5,1265.8 1729.2,1262.4 1734.6,1262.7 C1740.0,1263.0 1746.7,1269.9 1751.2,1266.8 C1755.7,1263.7 1758.1,1253.0 1761.6,1244.0 C1765.1,1235.0 1768.2,1224.5 1772.0,1212.8 C1775.8,1201.1 1780.7,1177.3 1784.5,1173.8 C1788.3,1170.3 1791.8,1180.3 1794.9,1192.0 C1798.0,1203.7 1800.1,1233.3 1803.2,1244.0 C1806.3,1254.7 1810.1,1253.3 1813.6,1256.4 C1817.1,1259.5 1818.8,1261.8 1824.0,1262.7 C1829.2,1263.6 1839.3,1265.4 1844.8,1261.6 C1850.3,1257.8 1852.5,1246.9 1857.2,1239.8 C1861.9,1232.7 1868.3,1219.3 1872.8,1219.0 C1877.3,1218.7 1880.0,1230.8 1884.3,1237.7 C1888.6,1244.6 1892.2,1256.1 1898.8,1260.6 C1905.4,1265.1 1917.5,1266.2 1923.8,1264.8 C1930.0,1263.4 1932.1,1252.0 1936.3,1252.3 C1940.5,1252.6 1944.9,1269.9 1948.7,1266.8 C1952.5,1263.7 1954.9,1246.4 1959.1,1233.6 C1963.3,1220.8 1969.5,1192.6 1973.7,1190.2 C1977.9,1187.8 1980.6,1206.6 1984.1,1219.0 C1987.6,1231.4 1992.1,1255.4 1994.5,1264.8 C1996.9,1274.2 1994.8,1272.1 1998.6,1275.2 C2002.4,1278.3 2012.2,1280.9 2017.4,1283.5 C2022.6,1286.1 2025.3,1291.5 2029.8,1290.8 C2034.3,1290.1 2037.1,1281.4 2044.4,1279.3 C2051.7,1277.2 2066.6,1276.7 2073.5,1278.3 C2080.4,1279.9 2082.5,1288.5 2086.0,1288.7 C2089.5,1288.9 2090.2,1280.5 2094.3,1279.3 C2098.5,1278.1 2105.0,1280.2 2110.9,1281.4 C2116.8,1282.6 2124.5,1286.6 2129.7,1286.6 C2134.9,1286.6 2137.9,1281.1 2142.1,1281.4 C2146.2,1281.8 2149.8,1288.0 2154.6,1288.7 C2159.4,1289.4 2168.4,1286.1 2171.2,1285.6" fill="none" stroke="#00807a" stroke-width="7.6" stroke-linejoin="round" stroke-linecap="round"/>
<path d="M165.4,1565.8 C168.1,1566.1 175.1,1566.4 181.7,1567.6 C188.3,1568.8 198.3,1573.3 205.2,1573.0 C212.1,1572.7 218.2,1566.7 223.3,1565.8 C228.4,1564.9 230.3,1567.6 236.0,1567.6 C241.7,1567.6 251.6,1564.8 257.6,1565.8 C263.6,1566.8 267.3,1572.7 272.1,1573.9 C276.9,1575.1 283.0,1572.5 286.6,1573.0 C290.2,1573.5 289.9,1576.8 293.8,1576.6 C297.7,1576.4 305.6,1571.8 310.1,1572.1 C314.6,1572.4 317.0,1578.6 320.9,1578.4 C324.8,1578.2 330.0,1572.1 333.6,1571.2 C337.2,1570.3 339.6,1573.8 342.6,1573.0 C345.6,1572.2 349.0,1567.8 351.7,1566.7 C354.4,1565.7 356.5,1567.9 358.9,1566.7 C361.3,1565.5 363.4,1558.9 366.1,1559.5 C368.8,1560.1 370.7,1568.2 375.2,1570.3 C379.7,1572.4 388.2,1572.5 393.3,1572.1 C398.4,1571.6 401.1,1567.6 405.9,1567.6 C410.7,1567.6 416.2,1571.2 422.2,1572.1 C428.2,1573.0 437.0,1574.0 442.1,1573.0 C447.2,1572.0 446.3,1567.6 452.9,1565.8 C459.5,1564.0 475.0,1562.0 481.9,1562.2 C488.8,1562.4 490.9,1564.9 494.5,1566.7 C498.1,1568.5 500.3,1573.2 503.6,1573.0 C506.9,1572.8 508.4,1566.8 514.4,1565.8 C520.4,1564.8 534.0,1564.8 539.7,1566.7 C545.4,1568.7 546.2,1575.5 548.8,1577.5 C551.4,1579.5 552.5,1580.5 555.4,1578.9 C558.3,1577.3 561.2,1570.2 566.3,1568.1 C571.4,1566.0 580.8,1567.8 586.2,1566.3 C591.6,1564.8 593.4,1561.1 598.8,1559.0 C604.2,1556.9 613.9,1557.8 618.7,1553.6 C623.5,1549.4 624.2,1538.2 627.8,1533.7 C631.4,1529.2 636.5,1526.5 640.4,1526.5 C644.3,1526.5 648.6,1529.2 651.3,1533.7 C654.0,1538.2 653.1,1550.1 656.7,1553.6 C660.3,1557.1 667.6,1554.0 673.0,1554.5 C678.4,1555.0 685.0,1555.1 689.2,1556.3 C693.4,1557.5 693.5,1561.7 698.3,1561.7 C703.1,1561.7 713.7,1562.5 718.2,1556.3 C722.7,1550.1 723.0,1540.5 725.4,1524.7 C727.8,1508.9 730.5,1479.5 732.6,1461.4 C734.7,1443.3 736.3,1426.9 738.1,1416.2 C739.9,1405.5 741.4,1397.5 743.5,1397.5 C745.6,1397.5 748.3,1402.5 750.7,1416.2 C753.1,1429.9 755.6,1459.9 758.0,1479.5 C760.4,1499.1 762.5,1520.2 765.2,1533.7 C767.9,1547.2 770.9,1554.5 774.2,1560.8 C777.5,1567.1 779.7,1569.4 785.1,1571.7 C790.5,1574.0 799.9,1575.9 806.8,1574.4 C813.7,1572.9 819.8,1562.8 826.7,1562.6 C833.6,1562.4 841.8,1572.3 848.4,1573.5 C855.0,1574.7 858.4,1570.8 866.5,1569.9 C874.6,1569.0 888.2,1567.8 897.2,1568.1 C906.2,1568.4 913.6,1571.1 920.7,1571.7 C927.8,1572.3 933.5,1570.7 940.0,1571.9 C946.5,1573.1 954.5,1579.2 959.9,1579.1 C965.3,1578.9 968.0,1571.8 972.5,1571.0 C977.0,1570.2 983.1,1574.8 987.0,1574.6 C990.9,1574.4 992.8,1570.2 996.1,1570.1 C999.4,1569.9 1002.7,1574.3 1006.9,1573.7 C1011.1,1573.1 1016.9,1569.5 1021.4,1566.5 C1025.9,1563.5 1029.8,1559.2 1034.0,1555.6 C1038.2,1552.0 1043.1,1544.5 1046.7,1544.8 C1050.3,1545.1 1052.4,1552.6 1055.7,1557.4 C1059.0,1562.2 1063.3,1570.4 1066.6,1573.7 C1069.9,1577.0 1072.6,1577.9 1075.6,1577.3 C1078.6,1576.7 1081.4,1570.1 1084.7,1570.1 C1088.0,1570.1 1091.0,1578.2 1095.5,1577.3 C1100.0,1576.4 1106.7,1568.0 1111.8,1564.7 C1116.9,1561.4 1121.2,1558.9 1126.3,1557.4 C1131.4,1555.9 1138.6,1555.0 1142.5,1555.6 C1146.4,1556.2 1147.7,1557.7 1149.8,1561.0 C1151.9,1564.3 1152.2,1574.0 1155.2,1575.5 C1158.2,1577.0 1163.0,1570.5 1167.8,1570.1 C1172.6,1569.6 1178.4,1571.6 1184.1,1572.8 C1189.8,1574.0 1196.8,1576.5 1202.2,1577.3 C1207.6,1578.0 1212.2,1577.0 1216.7,1577.3 C1221.2,1577.6 1225.4,1579.7 1229.3,1579.1 C1233.2,1578.5 1235.4,1574.9 1240.2,1573.7 C1245.0,1572.5 1252.9,1574.0 1258.3,1571.9 C1263.7,1569.8 1268.5,1563.1 1272.7,1561.0 C1276.9,1558.9 1280.3,1558.6 1283.6,1559.2 C1286.9,1559.8 1289.6,1562.3 1292.6,1564.7 C1295.6,1567.1 1297.8,1572.5 1301.7,1573.7 C1305.6,1574.9 1312.2,1571.9 1316.1,1571.9 C1320.0,1571.9 1320.5,1573.2 1325.2,1573.7 C1329.9,1574.2 1337.7,1576.7 1344.5,1574.6 C1351.3,1572.5 1361.1,1562.3 1366.2,1561.0 C1371.3,1559.7 1372.2,1566.7 1375.2,1566.5 C1378.2,1566.3 1381.2,1559.8 1384.2,1560.1 C1387.2,1560.4 1390.0,1569.3 1393.3,1568.3 C1396.6,1567.2 1400.2,1554.4 1404.1,1553.8 C1408.0,1553.2 1412.3,1564.1 1416.8,1564.7 C1421.3,1565.3 1426.5,1557.4 1431.3,1557.4 C1436.1,1557.4 1440.9,1562.9 1445.7,1564.7 C1450.5,1566.5 1455.4,1566.2 1460.2,1568.3 C1465.0,1570.4 1469.3,1577.6 1474.7,1577.3 C1480.1,1577.0 1487.3,1570.7 1492.7,1566.5 C1498.1,1562.3 1503.0,1555.9 1507.2,1552.0 C1511.4,1548.1 1515.1,1547.5 1518.1,1543.0 C1521.1,1538.5 1522.6,1534.0 1525.3,1524.9 C1528.0,1515.9 1530.7,1499.8 1534.3,1488.7 C1537.9,1477.6 1543.1,1461.5 1547.0,1458.5 C1550.9,1455.5 1553.9,1463.4 1557.8,1470.6 C1561.7,1477.8 1566.3,1490.2 1570.5,1501.4 C1574.7,1512.6 1580.2,1530.0 1583.2,1537.5 C1586.2,1545.0 1586.2,1545.7 1588.6,1546.6 C1591.0,1547.5 1594.6,1544.8 1597.6,1543.0 C1600.6,1541.2 1603.4,1536.6 1606.7,1535.7 C1610.0,1534.8 1613.9,1535.4 1617.5,1537.5 C1621.1,1539.6 1624.8,1546.9 1628.4,1548.4 C1632.0,1549.9 1635.9,1545.7 1639.2,1546.6 C1642.5,1547.5 1644.7,1549.0 1648.3,1553.8 C1651.9,1558.6 1656.7,1571.6 1660.9,1575.5 C1665.1,1579.4 1668.2,1577.9 1673.6,1577.3 C1679.0,1576.7 1688.1,1575.5 1693.5,1571.9 C1698.9,1568.3 1701.9,1560.7 1706.1,1555.6 C1710.3,1550.5 1715.1,1544.4 1718.8,1541.2 C1722.5,1538.0 1724.6,1535.8 1728.3,1536.4 C1732.0,1537.0 1736.3,1540.3 1740.8,1544.8 C1745.3,1549.3 1749.2,1559.9 1755.4,1563.5 C1761.6,1567.1 1772.0,1566.4 1778.2,1566.6 C1784.4,1566.8 1788.3,1563.8 1792.8,1564.5 C1797.3,1565.2 1801.1,1571.8 1805.3,1570.8 C1809.5,1569.8 1813.2,1561.9 1817.7,1558.3 C1822.2,1554.7 1827.8,1549.1 1832.3,1548.9 C1836.8,1548.7 1840.6,1554.8 1844.8,1557.2 C1849.0,1559.6 1852.3,1564.9 1857.2,1563.5 C1862.1,1562.1 1868.4,1549.8 1873.9,1548.9 C1879.5,1548.0 1885.7,1553.6 1890.5,1558.3 C1895.3,1563.0 1896.8,1575.8 1903.0,1577.0 C1909.2,1578.2 1920.3,1570.3 1927.9,1565.6 C1935.5,1560.9 1942.5,1551.3 1948.7,1548.9 C1955.0,1546.5 1958.5,1552.0 1965.4,1551.0 C1972.3,1550.0 1983.4,1543.7 1990.3,1542.7 C1997.2,1541.7 2002.2,1546.2 2007.0,1544.8 C2011.8,1543.4 2015.6,1535.5 2019.4,1534.4 C2023.2,1533.4 2026.2,1540.4 2029.8,1538.5 C2033.4,1536.6 2037.1,1523.9 2041.3,1522.9 C2045.5,1521.9 2050.1,1527.6 2054.8,1532.3 C2059.5,1537.0 2064.5,1544.4 2069.3,1551.0 C2074.2,1557.6 2077.0,1568.2 2083.9,1571.8 C2090.8,1575.4 2102.9,1571.8 2110.9,1572.8 C2118.9,1573.8 2126.5,1578.0 2131.7,1578.0 C2136.9,1578.0 2138.6,1573.0 2142.1,1572.8 C2145.6,1572.6 2147.7,1577.2 2152.5,1577.0 C2157.3,1576.8 2168.1,1572.7 2171.2,1571.8" fill="none" stroke="#00ff00" stroke-width="7.6" stroke-linejoin="round" stroke-linecap="round"/>
<g stroke="#1e1e1e" stroke-width="5.2" fill="none" stroke-linecap="square">
<rect x="163.9" y="29.5" width="2011.8" height="1589.5"/>
<line x1="163.9" y1="1619.0" x2="163.9" y2="1651.0"/>
<line x1="566.3" y1="1619.0" x2="566.3" y2="1651.0"/>
<line x1="968.6" y1="1619.0" x2="968.6" y2="1651.0"/>
<line x1="1371.0" y1="1619.0" x2="1371.0" y2="1651.0"/>
<line x1="1773.3" y1="1619.0" x2="1773.3" y2="1651.0"/>
<line x1="2175.7" y1="1619.0" x2="2175.7" y2="1651.0"/>
<line x1="365.1" y1="1619.0" x2="365.1" y2="1636.0"/>
<line x1="767.4" y1="1619.0" x2="767.4" y2="1636.0"/>
<line x1="1169.8" y1="1619.0" x2="1169.8" y2="1636.0"/>
<line x1="1572.2" y1="1619.0" x2="1572.2" y2="1636.0"/>
<line x1="1974.5" y1="1619.0" x2="1974.5" y2="1636.0"/>
</g>
<rect x="2150" y="205.0" width="60" height="66.0" fill="#fff"/>
<rect x="2150" y="637.0" width="60" height="135.0" fill="#fff"/>
<rect x="2150" y="953.5" width="60" height="66.1" fill="#fff"/>
<rect x="2150" y="1141.4" width="60" height="66.1" fill="#fff"/>
<rect x="2150" y="1345.8" width="60" height="64.6" fill="#fff"/>
<g font-family="'Liberation Sans', sans-serif" fill="#111" stroke="#111" stroke-width="0.6">
<g font-size="63" text-anchor="middle">
<text x="163.4" y="1720">300</text>
<text x="565.8" y="1720">600</text>
<text x="968.1" y="1720">900</text>
<text x="1370.5" y="1720">1200</text>
<text x="1772.8" y="1720">1500</text>
<text x="2175.2" y="1720">1800</text>
</g>
<g font-size="43.0">
<text transform="translate(260.0,454.9) rotate(-90)">360</text>
<text transform="translate(385.5,436.2) rotate(-90)">452</text>
<text transform="translate(481.5,423.2) rotate(-90)">525</text>
<text transform="translate(599.1,272.5) rotate(-90)">613</text>
<text transform="translate(662.4,421.8) rotate(-90)">660</text>
<text transform="translate(814.3,277.6) rotate(-90)">773</text>
<text transform="translate(1022.2,429.0) rotate(-90)">928</text>
<text transform="translate(1139.8,448.5) rotate(-90)">1016</text>
<text transform="translate(1233.3,450.9) rotate(-90)">1086</text>
<text transform="translate(1290.1,423.1) rotate(-90)">1127</text>
<text transform="translate(1365.9,370.6) rotate(-90)">1182</text>
<text transform="translate(1536.3,311.6) rotate(-90)">1311</text>
<text transform="translate(1605.3,151.2) rotate(-90)">1363</text>
<text transform="translate(1683.6,464.1) rotate(-90)">1421</text>
<text transform="translate(1802.4,158.5) rotate(-90)">1510</text>
<text transform="translate(1888.7,326.4) rotate(-90)">1575</text>
<text transform="translate(1991.2,145.7) rotate(-90)">1651</text>
<text transform="translate(265.3,848.5) rotate(-90)">359</text>
<text transform="translate(491.7,832.2) rotate(-90)">528</text>
<text transform="translate(548.2,804.9) rotate(-90)">571</text>
<text transform="translate(604.7,666.3) rotate(-90)">613</text>
<text transform="translate(819.4,718.9) rotate(-90)">773</text>
<text transform="translate(1029.6,848.3) rotate(-90)">929</text>
<text transform="translate(1240.8,867.0) rotate(-90)">1087</text>
<text transform="translate(1293.1,812.7) rotate(-90)">1127</text>
<text transform="translate(1365.0,764.8) rotate(-90)">1180</text>
<text transform="translate(1427.6,878.9) rotate(-90)">1226</text>
<text transform="translate(1540.8,707.4) rotate(-90)">1310</text>
<text transform="translate(1611.7,542.3) rotate(-90)">1363</text>
<text transform="translate(1692.4,857.0) rotate(-90)">1422</text>
<text transform="translate(1809.7,534.3) rotate(-90)">1510</text>
<text transform="translate(1895.1,719.1) rotate(-90)">1574</text>
<text transform="translate(1994.2,539.7) rotate(-90)">1650</text>
<text transform="translate(251.2,1055.7) rotate(-90)">357</text>
<text transform="translate(374.2,1055.4) rotate(-90)">449</text>
<text transform="translate(593.3,1022.0) rotate(-90)">612</text>
<text transform="translate(807.6,1016.1) rotate(-90)">772</text>
<text transform="translate(1225.6,1078.1) rotate(-90)">1084</text>
<text transform="translate(1282.6,1047.0) rotate(-90)">1127</text>
<text transform="translate(1346.2,1058.1) rotate(-90)">1173</text>
<text transform="translate(1523.6,1028.6) rotate(-90)">1307</text>
<text transform="translate(1600.6,975.2) rotate(-90)">1363</text>
<text transform="translate(1683.5,1073.5) rotate(-90)">1425</text>
<text transform="translate(1798.2,966.8) rotate(-90)">1510</text>
<text transform="translate(1884.3,1025.2) rotate(-90)">1575</text>
<text transform="translate(1986.3,962.1) rotate(-90)">1651</text>
<text transform="translate(369.7,1298.4) rotate(-90)">447</text>
<text transform="translate(594.2,1251.6) rotate(-90)">613</text>
<text transform="translate(808.5,1239.4) rotate(-90)">773</text>
<text transform="translate(1275.3,1267.3) rotate(-90)">1121</text>
<text transform="translate(1346.5,1246.6) rotate(-90)">1174</text>
<text transform="translate(1525.3,1220.2) rotate(-90)">1309</text>
<text transform="translate(1598.1,1172.2) rotate(-90)">1363</text>
<text transform="translate(1716.7,1259.9) rotate(-90)">1451</text>
<text transform="translate(1792.7,1178.3) rotate(-90)">1508</text>
<text transform="translate(1882.9,1221.3) rotate(-90)">1574</text>
<text transform="translate(1984.1,1192.6) rotate(-90)">1650</text>
<text transform="translate(641.2,1505.4) rotate(-90)">657</text>
<text transform="translate(746.6,1394.3) rotate(-90)">732</text>
<text transform="translate(1047.5,1528.7) rotate(-90)">958</text>
<text transform="translate(1124.4,1541.5) rotate(-90)">1029</text>
<text transform="translate(1283.5,1540.6) rotate(-90)">1136</text>
<text transform="translate(1556.0,1450.6) rotate(-90)">1331</text>
<text transform="translate(1620.1,1523.6) rotate(-90)">1383</text>
<text transform="translate(1730.9,1523.7) rotate(-90)">1465</text>
<text transform="translate(1827.1,1532.7) rotate(-90)">1545</text>
<text transform="translate(1885.4,1532.7) rotate(-90)">1575</text>
<text transform="translate(2043.4,1501.3) rotate(-90)">1700</text>
</g>
<g font-size="56">
<text x="2054.9" y="258.7">Feteasca Neagra</text>
<text x="2086.1" y="687.8">Tamaioasa</text>
<text x="2084.0" y="757.5">Romaneasca</text>
<text x="2127.9" y="1006.1">Gordan</text>
<text x="2059.9" y="1192.5">Feteasca Regala</text>
<text x="2081.3" y="1396.9">Coarna Neagra</text>
</g>
<text transform="translate(75.5,1257.5) rotate(-90)" font-size="78">Raman Intensity</text>
<text x="853.5" y="1850.5" font-size="78.5">Wavenumber/cm<tspan font-size="40" dy="-43" dx="4">-1</tspan></text>
</g>
<line x1="49" y1="658" x2="49" y2="462" stroke="#222" stroke-width="3"/>
<polygon points="49,426 38.5,469 59.5,469" fill="#111"/>
</svg></body></html>
